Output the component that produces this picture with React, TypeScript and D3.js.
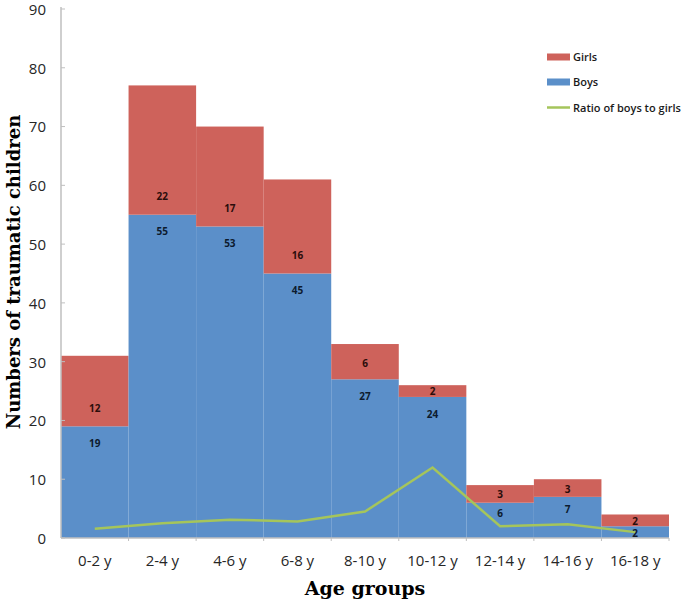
import React from "react";
import * as d3 from "d3";

const categories = ["0-2 y", "2-4 y", "4-6 y", "6-8 y", "8-10 y", "10-12 y", "12-14 y", "14-16 y", "16-18 y"];
const boys = [19, 55, 53, 45, 27, 24, 6, 7, 2];
const girls = [12, 22, 17, 16, 6, 2, 3, 3, 2];
const ratio = [1.58, 2.5, 3.12, 2.81, 4.5, 12, 2, 2.33, 1];
const yTicks = [0, 10, 20, 30, 40, 50, 60, 70, 80, 90];

const W = 685;
const H = 604;
const M = { left: 61, right: 16, top: 9, bottom: 66 };

const GIRLS = "#CE625B";
const BOYS = "#5B8FC9";
const LINE = "#A5C55B";
const AXIS = "#BFBFBF";

export default function App() {
  const x = d3
    .scaleBand<string>()
    .domain(categories)
    .range([M.left, W - M.right])
    .paddingInner(0)
    .paddingOuter(0);
  const y = d3.scaleLinear().domain([0, 90]).range([H - M.bottom, M.top]);
  const bw = x.bandwidth();

  const line = d3
    .line<number>()
    .x((_, i) => (x(categories[i]) as number) + bw / 2)
    .y((d) => y(d));

  const labelFont = "'Open Sans', 'DejaVu Sans', sans-serif";
  const tickFont = "'Open Sans', 'Liberation Sans', sans-serif";
  const titleFont = "'DejaVu Serif', 'Liberation Serif', serif";

  return (
    <svg width={W} height={H} style={{ display: "block", position: "absolute", left: 0, top: 0 }}>
      <rect x={0} y={0} width={W} height={H} fill="#ffffff" />
      {/* bars */}
      {categories.map((c, i) => {
        const x0 = x(c) as number;
        return (
          <g key={c}>
            <rect x={x0} y={y(boys[i])} width={bw} height={y(0) - y(boys[i])} fill={BOYS} />
            <rect
              x={x0}
              y={y(boys[i] + girls[i])}
              width={bw}
              height={y(boys[i]) - y(boys[i] + girls[i])}
              fill={GIRLS}
            />
          </g>
        );
      })}
      {/* axes */}
      <line x1={M.left} x2={M.left} y1={y(90) - 2} y2={y(0)} stroke={AXIS} strokeWidth={1.5} />
      <line x1={M.left} x2={W - M.right} y1={y(0)} y2={y(0)} stroke={AXIS} strokeWidth={1.5} />
      {yTicks.map((t) => (
        <g key={t}>
          <line x1={M.left} x2={M.left + 4} y1={y(t)} y2={y(t)} stroke={AXIS} strokeWidth={1} />
          <text
            x={M.left - 15}
            y={y(t) + 0.5}
            dy="0.36em"
            textAnchor="end"
            fontFamily={tickFont}
            fontSize={15}
            fill="#262626"
          >
            {t}
          </text>
        </g>
      ))}
      {categories.map((c, i) => (
        <g key={"xt" + c}>
          <line
            x1={(x(c) as number) + bw}
            x2={(x(c) as number) + bw}
            y1={y(0)}
            y2={y(0) + 3}
            stroke={AXIS}
            strokeWidth={1}
          />
          <text
            x={(x(c) as number) + bw / 2}
            y={y(0) + 23}
            dy="0.36em"
            textAnchor="middle"
            fontFamily={tickFont}
            fontSize={15}
            fill="#262626"
          >
            {c}
          </text>
        </g>
      ))}
      {/* ratio line */}
      <path d={line(ratio) as string} fill="none" stroke={LINE} strokeWidth={2.5} />
      {/* data labels */}
      {categories.map((c, i) => {
        const cx = (x(c) as number) + bw / 2;
        const boundary = y(boys[i]);
        const girlsH = y(boys[i]) - y(boys[i] + girls[i]);
        const boysH = y(0) - y(boys[i]);
        const gOff = Math.min(18, girlsH * 0.45);
        const bOff = Math.min(17, Math.max(7.5, boysH * 0.3));
        return (
          <g key={"lb" + c} fontFamily={labelFont} fontSize={10} fontWeight={700} textAnchor="middle">
            <text x={cx} y={boundary - gOff} dy="0.36em" fill="#2b0d0b">
              {girls[i]}
            </text>
            <text x={cx} y={boundary + bOff} dy="0.36em" fill="#0d1b2e">
              {boys[i]}
            </text>
          </g>
        );
      })}
      {/* legend */}
      <g fontFamily={tickFont} fontSize={11} fill="#1a1a1a">
        <rect x={547} y={53.5} width={23} height={7} fill={GIRLS} />
        <text x={573} y={57} dy="0.36em" fontWeight={600}>Girls</text>
        <rect x={547} y={78.5} width={23} height={7} fill={BOYS} />
        <text x={573} y={82} dy="0.36em" fontWeight={600}>Boys</text>
        <line x1={547} x2={570} y1={107.5} y2={107.5} stroke={LINE} strokeWidth={2.5} />
        <text x={573} y={108} dy="0.36em" fontWeight={600}>Ratio of boys to girls</text>
      </g>
      {/* axis titles */}
      <text
        x={(M.left + W - M.right) / 2}
        y={588}
        dy="0.36em"
        textAnchor="middle"
        fontFamily={titleFont}
        fontWeight={700}
        fontSize={19}
        fill="#000"
      >
        Age groups
      </text>
      <text
        transform={`translate(14, 272) rotate(-90)`}
        dy="0.36em"
        textAnchor="middle"
        fontFamily={titleFont}
        fontWeight={700}
        fontSize={18}
        fill="#000"
      >
        Numbers of traumatic children
      </text>
    </svg>
  );
}
